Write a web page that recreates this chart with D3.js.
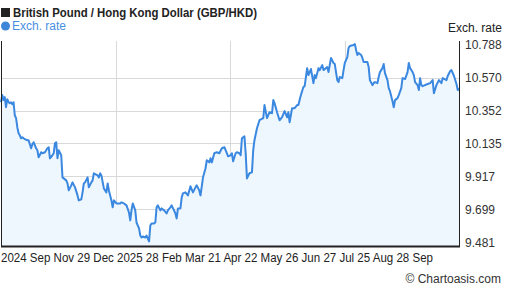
<!DOCTYPE html>
<html>
<head>
<meta charset="utf-8">
<script src="https://cdn.jsdelivr.net/npm/d3@7"></script>
<style>
  body { margin: 0; background: #fff; }
  svg text { font-family: "Liberation Sans", Arial, sans-serif; }
</style>
</head>
<body>
<div id="chart"></div>
<script>
// days since start of the period (about 1 Oct 2024)
var days = [0, 1, 2, 3, 4, 5, 6, 7, 8, 9, 10, 11, 12, 13, 14, 15, 16, 17, 18, 19,
  21, 22, 24, 25, 26, 28, 29, 30, 32, 33, 35, 37, 38, 39, 41, 42, 43, 44, 45, 46,
  48, 49, 52, 53, 54, 56, 57, 59, 61, 62, 64, 65, 66, 67, 69, 70, 72, 73, 74, 77,
  78, 79, 80, 82, 84, 85, 86, 88, 89, 90, 92, 93, 95, 96, 98, 100, 102, 103, 104, 105,
  107, 108, 110, 111, 112, 113, 115, 116, 118, 119, 120, 122, 123, 124, 125, 127, 128, 130, 132, 133,
  135, 136, 139, 140, 141, 143, 144, 145, 147, 149, 151, 153, 155, 156, 158, 159, 161, 163, 164, 166,
  167, 168, 170, 172, 174, 176, 178, 179, 181, 183, 184, 185, 187, 188, 190, 191, 192, 194, 195, 196,
  198, 200, 201, 202, 204, 206, 209, 210, 212, 214, 216, 217, 218, 220, 222, 224, 226, 228, 229, 230,
  232, 234, 236, 237, 239, 241, 242, 244, 245, 247, 249, 250, 251, 253, 254, 256, 257, 260, 261, 263,
  265, 266, 268, 269, 270, 272, 273, 274, 276, 277, 278, 281, 282, 283, 284, 285, 287, 288, 289, 292,
  293, 294, 296, 297, 298, 300, 301, 302, 304, 305, 306, 308, 309, 310, 312, 313, 314, 316, 317, 319,
  320, 322, 324, 325, 326, 328, 329, 330, 332, 333, 334, 335, 336, 340, 342, 344, 345, 346, 347, 349,
  351, 352, 355, 356, 358, 359, 361, 363, 364, 365];

// GBP/HKD exchange rate
var rates = [10.407, 10.454, 10.421, 10.441, 10.374, 10.427, 10.407, 10.401, 10.407, 10.394,
  10.407, 10.321, 10.302, 10.242, 10.202, 10.189, 10.169, 10.176, 10.169, 10.163,
  10.156, 10.156, 10.103, 10.130, 10.143, 10.103, 10.090, 10.043, 10.077, 10.070,
  10.077, 10.103, 10.110, 10.037, 10.057, 10.070, 10.136, 10.143, 10.037, 10.090,
  10.057, 9.911, 9.891, 9.871, 9.825, 9.858, 9.878, 9.845, 9.792, 9.759,
  9.766, 9.812, 9.871, 9.878, 9.911, 9.845, 9.878, 9.891, 9.938, 9.924,
  9.911, 9.938, 9.924, 9.838, 9.812, 9.871, 9.825, 9.759, 9.713, 9.759,
  9.739, 9.739, 9.739, 9.746, 9.739, 9.726, 9.679, 9.627, 9.693, 9.739,
  9.693, 9.613, 9.574, 9.527, 9.514, 9.521, 9.514, 9.527, 9.488, 9.593,
  9.607, 9.607, 9.613, 9.713, 9.726, 9.693, 9.706, 9.693, 9.673, 9.693,
  9.713, 9.726, 9.673, 9.640, 9.706, 9.706, 9.779, 9.805, 9.812, 9.792,
  9.852, 9.812, 9.845, 9.858, 9.825, 9.792, 9.911, 9.971, 10.024, 10.010,
  10.037, 10.010, 10.070, 10.077, 10.070, 10.103, 10.110, 10.090, 10.050, 10.057,
  10.070, 10.017, 10.070, 10.077, 10.070, 10.057, 10.169, 10.182, 10.070, 9.904,
  9.938, 9.944, 10.090, 10.156, 10.235, 10.288, 10.302, 10.388, 10.302, 10.341,
  10.335, 10.421, 10.401, 10.341, 10.288, 10.308, 10.348, 10.308, 10.341, 10.275,
  10.368, 10.368, 10.388, 10.388, 10.454, 10.507, 10.513, 10.632, 10.586, 10.626,
  10.533, 10.586, 10.566, 10.632, 10.619, 10.652, 10.619, 10.639, 10.606, 10.699,
  10.666, 10.659, 10.553, 10.540, 10.573, 10.566, 10.619, 10.666, 10.705, 10.765,
  10.778, 10.785, 10.791, 10.752, 10.719, 10.732, 10.719, 10.699, 10.672, 10.672,
  10.639, 10.553, 10.520, 10.533, 10.540, 10.533, 10.573, 10.606, 10.632, 10.659,
  10.599, 10.553, 10.500, 10.480, 10.414, 10.374, 10.421, 10.434, 10.454, 10.500,
  10.566, 10.560, 10.606, 10.666, 10.632, 10.606, 10.586, 10.540, 10.520, 10.487,
  10.566, 10.520, 10.513, 10.527, 10.533, 10.553, 10.467, 10.493, 10.520, 10.553,
  10.533, 10.566, 10.553, 10.580, 10.613, 10.619, 10.580, 10.527, 10.487, 10.500];

var yTicks = [9.481, 9.699, 9.917, 10.135, 10.352, 10.570, 10.788];
var xTickLabels = ["2024", "Sep", "Nov 29", "Dec", "2025", "28 Feb", "Mar 21",
  "Apr 22", "May 26", "Jun 27", "Jul 25", "Aug 28", "Sep"];

var title = "British Pound / Hong Kong Dollar (GBP/HKD)";
var seriesName = "Exch. rate";

var svgWidth = 507;
var svgHeight = 288;

var plot = { left: 1, right: 459.5, top: 41, bottom: 246 };

var lineColor = "#3b88e0";

var data = days.map(function(d, i) { return { day: d, rate: rates[i] }; });

var svg = d3.select("#chart")
  .append("svg")
  .attr("width", svgWidth)
  .attr("height", svgHeight);

var xScale = d3.scaleLinear()
  .domain([0, 365])
  .range([plot.left, plot.right - 0.5]);

var yScale = d3.scaleLinear()
  .domain([yTicks[0], yTicks[yTicks.length - 1]])
  .range([242.5, 44.5]);

// grid
var grid = svg.append("g");
grid.selectAll("line.h")
  .data(yTicks.slice(1, -1))
  .enter()
  .append("line")
  .attr("x1", plot.left)
  .attr("x2", plot.right)
  .attr("y1", d => Math.round(yScale(d)) + 0.5)
  .attr("y2", d => Math.round(yScale(d)) + 0.5)
  .attr("stroke", "#d9d9d9");

grid.selectAll("line.v")
  .data([1, 2, 3])
  .enter()
  .append("line")
  .attr("x1", d => Math.round(xScale(365 * d / 4)) + 0.5)
  .attr("x2", d => Math.round(xScale(365 * d / 4)) + 0.5)
  .attr("y1", plot.top)
  .attr("y2", plot.bottom)
  .attr("stroke", "#d9d9d9");

// area + line
var area = d3.area()
  .x(d => xScale(d.day))
  .y0(plot.bottom)
  .y1(d => yScale(d.rate));

var line = d3.line()
  .x(d => xScale(d.day))
  .y(d => yScale(d.rate));

svg.append("path")
  .datum(data)
  .attr("d", area)
  .attr("fill", "#eef6fe");

svg.append("path")
  .datum(data)
  .attr("d", line)
  .attr("fill", "none")
  .attr("stroke", lineColor)
  .attr("stroke-width", 2)
  .attr("stroke-linejoin", "round");

// frame
svg.append("line")
  .attr("x1", 1.5).attr("x2", 1.5)
  .attr("y1", plot.top).attr("y2", plot.bottom)
  .attr("stroke", "#222");
svg.append("line")
  .attr("x1", 459.5).attr("x2", 459.5)
  .attr("y1", plot.top).attr("y2", plot.bottom)
  .attr("stroke", "#222");
svg.append("line")
  .attr("x1", 1).attr("x2", 460)
  .attr("y1", plot.bottom + 0.5).attr("y2", plot.bottom + 0.5)
  .attr("stroke", "#222")
  .attr("stroke-width", 2);

// right axis labels
svg.append("g")
  .selectAll("text")
  .data(yTicks)
  .enter()
  .append("text")
  .attr("x", 465)
  .attr("y", d => yScale(d) + 4.5)
  .attr("font-size", 12)
  .attr("fill", "#333")
  .text(d => d.toFixed(3));

svg.append("text")
  .attr("x", 502)
  .attr("y", 32)
  .attr("text-anchor", "end")
  .attr("font-size", 12)
  .attr("fill", "#222")
  .text(seriesName);

// x labels
svg.append("text")
  .attr("x", 1)
  .attr("y", 262)
  .attr("font-size", 12)
  .attr("fill", "#222")
  .attr("textLength", 432)
  .attr("lengthAdjust", "spacingAndGlyphs")
  .text(xTickLabels.join(" "));

// title + legend
svg.append("rect")
  .attr("x", 1).attr("y", 8)
  .attr("width", 9).attr("height", 9)
  .attr("fill", "#222");
svg.append("text")
  .attr("x", 13)
  .attr("y", 17)
  .attr("font-size", 12)
  .attr("font-weight", "bold")
  .attr("fill", "#222")
  .attr("textLength", 244)
  .attr("lengthAdjust", "spacingAndGlyphs")
  .text(title);

svg.append("circle")
  .attr("cx", 5.5).attr("cy", 26)
  .attr("r", 4.5)
  .attr("fill", "#3d86d8");
svg.append("text")
  .attr("x", 12)
  .attr("y", 30)
  .attr("font-size", 12)
  .attr("fill", "#4a90e2")
  .text(seriesName);

svg.append("text")
  .attr("x", 501)
  .attr("y", 283)
  .attr("text-anchor", "end")
  .attr("font-size", 12)
  .attr("fill", "#333")
  .text("\u00a9 Chartoasis.com");
</script>
</body>
</html>
